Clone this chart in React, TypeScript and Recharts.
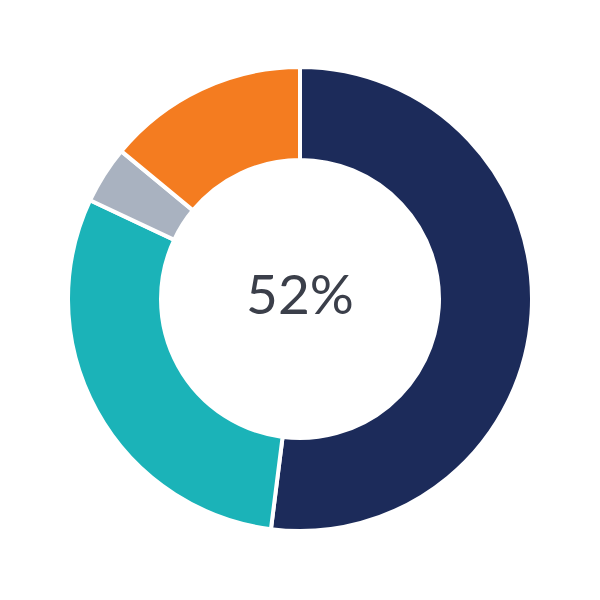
import { PieChart, Pie, Cell } from 'recharts'

const categories = ['Navy', 'Teal', 'Gray', 'Orange']
const values = [52, 30, 4, 14]
const colors = ['#1c2b5a', '#1bb3b8', '#a9b2c0', '#f47c20']
const centerLabel = '52%'

const data = categories.map((name, i) => ({ name, value: values[i] }))

// chart margin is 5px, so cx/cy are given relative to it
function App() {
  return (
    <div style={{ position: 'absolute', left: 0, top: 0 }}>
      <PieChart width={600} height={600}>
        <Pie
          data={data}
          dataKey="value"
          cx={295}
          cy={294}
          innerRadius={139}
          outerRadius={232}
          startAngle={90}
          endAngle={-270}
          stroke="#ffffff"
          strokeWidth={4}
          isAnimationActive={false}
        >
          {data.map((d, i) => (
            <Cell key={d.name} fill={colors[i]} />
          ))}
        </Pie>
        <text
          x={300}
          y={293}
          textAnchor="middle"
          dominantBaseline="central"
          fontFamily="Lato, sans-serif"
          fontSize={55}
          fill="#3b3f4a"
        >
          {centerLabel}
        </text>
      </PieChart>
    </div>
  )
}

export default App
